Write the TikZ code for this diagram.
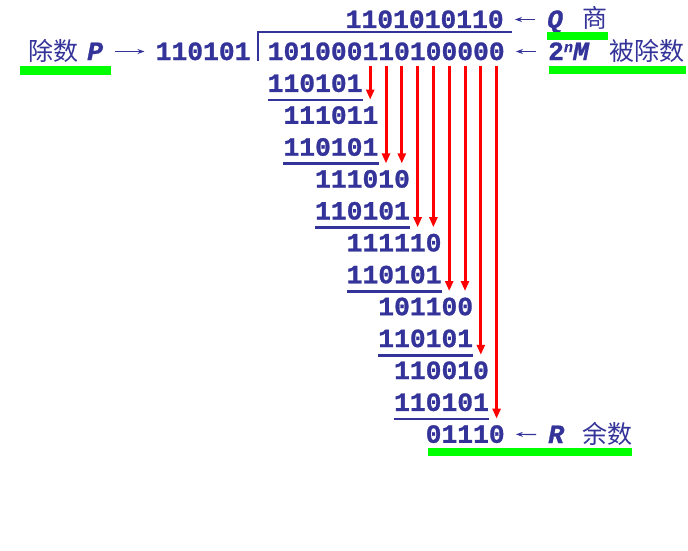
\documentclass[tikz,border=0pt]{standalone}
\usepackage{fontspec}
\setmonofont{Liberation Mono}[BoldFeatures={FakeBold=1},BoldItalicFeatures={FakeBold=1}]
\newfontfamily\cjk{Noto Sans CJK SC}
\usetikzlibrary{calc,arrows.meta}
\definecolor{ink}{RGB}{51,51,153}
\definecolor{hilite}{RGB}{0,255,0}
\newcommand\colw{15.8}
\newcommand\rowh{31.9}

\begin{document}
\begin{tikzpicture}[x=1pt,y=-1pt,
  num/.style={font=\ttfamily\bfseries\fontsize{26.33}{30}\selectfont,text=ink,
    inner sep=0pt,text height=17pt,text depth=0pt,anchor=base west},
  sym/.style={num,font=\ttfamily\bfseries\itshape\fontsize{26.33}{30}\selectfont},
  hz/.style={font=\cjk\fontsize{25}{30}\selectfont,text=ink,inner sep=0pt,anchor=base west},
  rule/.style={ink,line width=2.8pt},
  bring/.style={red,line width=3pt,shorten >=7pt,-{Triangle[length=10pt,width=8pt]}},
  tag/.style={ink,line width=1.2pt,shorten <=12pt,shorten >=11pt,-{Stealth[length=7pt,width=5pt]}}]
\useasboundingbox[fill=white] (0,0) rectangle (688,551);

\node[num] (quo) at (345.5,28) {1101010110};
\node[num] (dvd) at (267.5,60) {101000110100000};
\node[num] (dvs) at (155.5,60) {110101};
\node[hz] (pname) at (28,60) {除数};
\node[sym] (pvar) at (87,60) {P};
\node[sym] (qvar) at (547,28) {Q};
\node[hz] (qname) at (582,28) {商};
\node[sym] (mvar) at (548,60) {{\upshape 2}\raisebox{8pt}{\fontsize{15}{15}\selectfont n}M};
\node[hz] (mname) at (609,60) {被除数};

\foreach \t/\c [count=\k] in {110101/0,111011/1,110101/1,111010/3,110101/3,111110/5,
    110101/5,101100/7,110101/7,110010/8,110101/8}
  \node[num] (r\k) at ($(dvd.base west)+(\c*\colw,\k*\rowh)$) {\t};
\node[num] (rem) at ($(dvd.base west)+(10*\colw,12*\rowh)$) {01110};
\node[sym] (rvar) at (548,443) {R};
\node[hz] (rname) at (582,443) {余数};

\draw[rule,line width=2.5pt] (258,61) -- (258,32) -- (512,32);
\foreach \k in {1,3,...,11}
  \draw[rule] ([yshift=-8pt]r\k.base west) -- ([yshift=-8pt]r\k.base east);

\foreach \i in {6,...,14}
  \coordinate (d\i) at ($(dvd.base west)+({(\i+0.5)*\colw},6)$);
\foreach \i/\r in {6/r2,7/r4,8/r4,9/r6,10/r6,11/r8,12/r8,13/r10,14/rem}
  \draw[bring] (d\i) -- (d\i |- \r.north);

\draw[tag] (pvar.east) -- (dvs.west);
\draw[tag] (qvar.west) -- (quo.east);
\draw[tag] (mvar.west) -- (dvd.east);
\draw[tag] (rvar.west) -- (rem.east);

\fill[hilite] (20,66) rectangle (111,75);
\fill[hilite] (547,32) rectangle (608,40);
\fill[hilite] (549,66) rectangle (686,74);
\fill[hilite] (428,448) rectangle (632,456);
\end{tikzpicture}
\end{document}
